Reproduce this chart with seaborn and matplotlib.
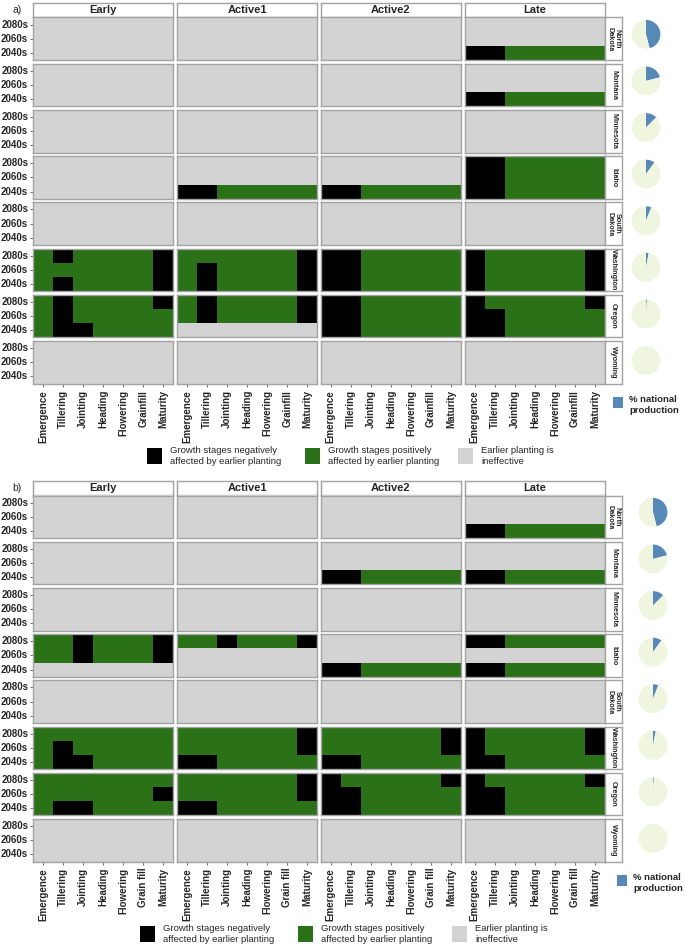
import numpy as np
import pandas as pd
import matplotlib
matplotlib.use("Agg")
import matplotlib.pyplot as plt
import seaborn as sns
from matplotlib.colors import ListedColormap
from matplotlib.patches import Rectangle

# ---------------- data ----------------
scenarios = ["Early", "Active1", "Active2", "Late"]
states = ["North Dakota", "Montana", "Minnesota", "Idaho",
          "South Dakota", "Washington", "Oregon", "Wyoming"]
state_strip_labels = ["North\nDakota", "Montana", "Minnesota", "Idaho",
                      "South\nDakota", "Washington", "Oregon", "Wyoming"]
decades = ["2080s", "2060s", "2040s"]
stages_a = ["Emergence", "Tillering", "Jointing", "Heading", "Flowering", "Grainfill", "Maturity"]
stages_b = ["Emergence", "Tillering", "Jointing", "Heading", "Flowering", "Grain fill", "Maturity"]

# % national production per state (pie charts)
national_share = [46, 21, 12.5, 10, 6, 3, 1, 0.3]

# codes per decade row (2080s, 2060s, 2040s): '-' negative, '+' positive, '0' ineffective
# panel a
a_north_dakota_late = ["0000000", "0000000", "--+++++"]
a_montana_late = ["0000000", "0000000", "--+++++"]
a_idaho_active1 = ["0000000", "0000000", "--+++++"]
a_idaho_active2 = ["0000000", "0000000", "--+++++"]
a_idaho_late = ["--+++++", "--+++++", "--+++++"]
a_washington_early = ["+-++++-", "++++++-", "+-++++-"]
a_washington_active1 = ["++++++-", "+-++++-", "+-++++-"]
a_washington_active2 = ["--+++++", "--+++++", "--+++++"]
a_washington_late = ["-+++++-", "-+++++-", "-+++++-"]
a_oregon_early = ["+-++++-", "+-+++++", "+--++++"]
a_oregon_active1 = ["+-++++-", "+-++++-", "0000000"]
a_oregon_active2 = ["--+++++", "--+++++", "--+++++"]
a_oregon_late = ["-+++++-", "--+++++", "--+++++"]

# panel b
b_north_dakota_late = ["0000000", "0000000", "--+++++"]
b_montana_active2 = ["0000000", "0000000", "--+++++"]
b_montana_late = ["0000000", "0000000", "--+++++"]
b_idaho_early = ["++-+++-", "++-+++-", "0000000"]
b_idaho_active1 = ["++-+++-", "0000000", "0000000"]
b_idaho_active2 = ["0000000", "0000000", "--+++++"]
b_idaho_late = ["--+++++", "0000000", "--+++++"]
b_washington_early = ["+++++++", "+-+++++", "+--++++"]
b_washington_active1 = ["++++++-", "++++++-", "--+++++"]
b_washington_active2 = ["++++++-", "++++++-", "--+++++"]
b_washington_late = ["-+++++-", "-+++++-", "--+++++"]
b_oregon_early = ["+++++++", "++++++-", "+--++++"]
b_oregon_active1 = ["++++++-", "++++++-", "--+++++"]
b_oregon_active2 = ["-+++++-", "--+++++", "--+++++"]
b_oregon_late = ["-+++++-", "--+++++", "--+++++"]

legend_labels = ["Growth stages negatively\naffected by earlier planting",
                 "Growth stages positively\naffected by earlier planting",
                 "Earlier planting is\nineffective"]

panel_a = {
    ("North Dakota", "Late"): a_north_dakota_late,
    ("Montana", "Late"): a_montana_late,
    ("Idaho", "Active1"): a_idaho_active1,
    ("Idaho", "Active2"): a_idaho_active2,
    ("Idaho", "Late"): a_idaho_late,
    ("Washington", "Early"): a_washington_early,
    ("Washington", "Active1"): a_washington_active1,
    ("Washington", "Active2"): a_washington_active2,
    ("Washington", "Late"): a_washington_late,
    ("Oregon", "Early"): a_oregon_early,
    ("Oregon", "Active1"): a_oregon_active1,
    ("Oregon", "Active2"): a_oregon_active2,
    ("Oregon", "Late"): a_oregon_late,
}
panel_b = {
    ("North Dakota", "Late"): b_north_dakota_late,
    ("Montana", "Active2"): b_montana_active2,
    ("Montana", "Late"): b_montana_late,
    ("Idaho", "Early"): b_idaho_early,
    ("Idaho", "Active1"): b_idaho_active1,
    ("Idaho", "Active2"): b_idaho_active2,
    ("Idaho", "Late"): b_idaho_late,
    ("Washington", "Early"): b_washington_early,
    ("Washington", "Active1"): b_washington_active1,
    ("Washington", "Active2"): b_washington_active2,
    ("Washington", "Late"): b_washington_late,
    ("Oregon", "Early"): b_oregon_early,
    ("Oregon", "Active1"): b_oregon_active1,
    ("Oregon", "Active2"): b_oregon_active2,
    ("Oregon", "Late"): b_oregon_late,
}

# ---------------- style ----------------
sns.set_theme(style="white")
plt.rcParams["font.family"] = ["Liberation Sans", "DejaVu Sans"]

BLACK = "#000000"
GREEN = "#2B7118"
GREY = "#D3D3D3"
BORDER = "#A3A3A3"
PIE_BLUE = "#5689B8"
PIE_PALE = "#F0F5E0"
cmap = ListedColormap([BLACK, GREY, GREEN])
code_map = {"-": -1, "0": 0, "+": 1}

W, H = 685, 946
fig = plt.figure(figsize=(W / 100, H / 100), dpi=100)


def rect(x0, y0, w, h):
    return [x0 / W, 1 - (y0 + h) / H, w / W, h / H]


def style_box(ax):
    for s in ax.spines.values():
        s.set_visible(True)
        s.set_color(BORDER)
        s.set_linewidth(1.0)


def draw_panel(panel, stages, y_off, tag, pie_x, legend_x, natl_x):
    x_left = 33.0
    col_w = 140.4
    gap = 3.5
    strip_h = 14.5
    row_h = 42.7
    top = y_off + 3
    body_top = top + strip_h

    fig.text(12 / W, 1 - (top + 7) / H, tag, fontsize=7.5, va="center", ha="left")

    for j, sc in enumerate(scenarios):
        x0 = x_left + j * (col_w + gap)
        sax = fig.add_axes(rect(x0, top, col_w, strip_h))
        sax.set_xticks([]); sax.set_yticks([])
        sax.set_facecolor("white")
        style_box(sax)
        sax.text(0.5, 0.5, sc, ha="center", va="center", fontsize=8,
                 fontweight="bold", transform=sax.transAxes)

    for i, st in enumerate(states):
        y0 = body_top + i * (row_h + gap)
        for j, sc in enumerate(scenarios):
            x0 = x_left + j * (col_w + gap)
            ax = fig.add_axes(rect(x0, y0, col_w, row_h))
            rows = panel.get((st, sc), ["0000000"] * 3)
            grid = [[code_map[c] for c in r] for r in rows]
            df = pd.DataFrame(grid, index=decades, columns=stages)
            sns.heatmap(df, ax=ax, cmap=cmap, vmin=-1.5, vmax=1.5, cbar=False,
                        xticklabels=(i == len(states) - 1), yticklabels=(j == 0))
            style_box(ax)
            ax.set_xlabel(""); ax.set_ylabel("")
            if j == 0:
                ax.tick_params(axis="y", left=True, length=2.5, width=0.6,
                               color="#555555", pad=1, labelsize=7)
                for t in ax.get_yticklabels():
                    t.set_rotation(0)
                    t.set_fontweight("bold")
            else:
                ax.tick_params(axis="y", left=False)
            if i == len(states) - 1:
                ax.tick_params(axis="x", bottom=True, length=2.5, width=0.6,
                               color="#555555", pad=2, labelsize=7)
                for t in ax.get_xticklabels():
                    t.set_rotation(90)
                    t.set_fontweight("bold")
            else:
                ax.tick_params(axis="x", bottom=False)

        # state strip
        xs = x_left + 4 * col_w + 3 * gap
        rax = fig.add_axes(rect(xs, y0, 17, row_h))
        rax.set_xticks([]); rax.set_yticks([])
        rax.set_facecolor("white")
        style_box(rax)
        rax.text(0.5, 0.5, state_strip_labels[i], ha="center", va="center",
                 rotation=-90, fontsize=5.2, fontweight="bold",
                 linespacing=0.9, transform=rax.transAxes)

        # pie
        r = 18
        cy = y_off + 34.3 + i * 46.6
        pax = fig.add_axes(rect(pie_x - r, cy - r, 2 * r, 2 * r))
        share = national_share[i]
        pax.pie([share, 100 - share], colors=[PIE_BLUE, PIE_PALE],
                startangle=90, counterclock=False,
                wedgeprops=dict(linewidth=0))
        pax.set_aspect("equal")
        pax.axis("off")

    # legend (overlay axes in pixel coordinates)
    lax = fig.add_axes([0, 0, 1, 1], facecolor="none")
    lax.set_xlim(0, W); lax.set_ylim(H, 0); lax.axis("off")
    ly = y_off + 448
    for k, (col, lab) in enumerate(zip([BLACK, GREEN, GREY], legend_labels)):
        bx = legend_x[k]
        lax.add_patch(Rectangle((bx, ly), 15, 16, facecolor=col, edgecolor="none"))
        lax.text(bx + 23, ly + 8, lab, fontsize=6.8, va="center", ha="left",
                 linespacing=1.15)
    nx, ny = natl_x, y_off + 397
    lax.add_patch(Rectangle((nx, ny), 10, 11, facecolor=PIE_BLUE, edgecolor="none"))
    lax.text(nx + 16, ny + 8, "% national\nproduction", fontsize=6.8, fontweight="bold",
             va="center", ha="left", linespacing=1.15)


draw_panel(panel_a, stages_a, 0, "a)", 646, [147, 305, 458], 613)
draw_panel(panel_b, stages_b, 478, "b)", 653, [140, 298, 452], 617)

fig.savefig("out.png", dpi=100, facecolor="white")
